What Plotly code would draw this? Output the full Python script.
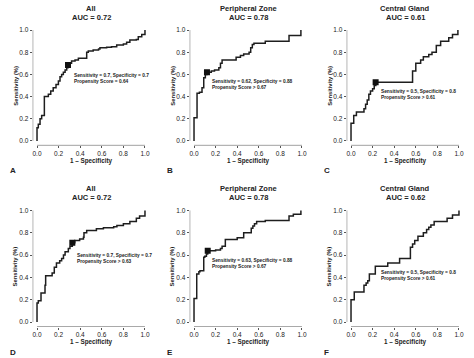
import plotly.graph_objects as go

# ---------------- data ----------------
panel_letters = ["A", "B", "C", "D", "E", "F"]
panel_titles = ["All", "Peripheral Zone", "Central Gland", "All", "Peripheral Zone", "Central Gland"]
auc_values = [0.72, 0.78, 0.61, 0.72, 0.78, 0.62]

fpr_a = [0, 0, 0.012, 0.028, 0.043, 0.068, 0.105, 0.127, 0.15, 0.176, 0.198, 0.213, 0.228, 0.244, 0.26, 0.275,
         0.287, 0.305, 0.32, 0.352, 0.383, 0.46, 0.475, 0.52, 0.57, 0.583, 0.645, 0.69, 0.738, 0.80, 0.83, 0.86,
         0.92, 0.938, 0.97, 1.0]
tpr_a = [0, 0.12, 0.15, 0.20, 0.23, 0.40, 0.42, 0.45, 0.48, 0.51, 0.54, 0.58, 0.60, 0.62, 0.64, 0.66,
         0.685, 0.70, 0.72, 0.73, 0.745, 0.80, 0.81, 0.82, 0.83, 0.84, 0.845, 0.85, 0.865, 0.875, 0.89, 0.91,
         0.915, 0.94, 0.96, 1.0]

fpr_b = [0, 0, 0.028, 0.05, 0.074, 0.09, 0.105, 0.12, 0.16, 0.19, 0.23, 0.245, 0.26, 0.39, 0.43, 0.46,
         0.51, 0.525, 0.54, 0.555, 0.66, 0.88, 0.99]
tpr_b = [0, 0.21, 0.43, 0.44, 0.48, 0.57, 0.60, 0.62, 0.63, 0.64, 0.66, 0.70, 0.73, 0.755, 0.77, 0.785,
         0.80, 0.84, 0.87, 0.88, 0.90, 0.95, 1.0]

fpr_c = [0, 0, 0.025, 0.05, 0.12, 0.135, 0.15, 0.165, 0.18, 0.2, 0.215, 0.23, 0.57, 0.60, 0.645, 0.67,
         0.72, 0.75, 0.79, 0.83, 0.905, 0.94, 0.99]
tpr_c = [0, 0.16, 0.23, 0.26, 0.29, 0.33, 0.37, 0.42, 0.45, 0.47, 0.50, 0.53, 0.63, 0.70, 0.73, 0.76,
         0.78, 0.80, 0.86, 0.90, 0.93, 0.96, 1.0]

fpr_d = [0, 0, 0.012, 0.037, 0.074, 0.08, 0.14, 0.16, 0.18, 0.21, 0.228, 0.245, 0.26, 0.29, 0.305, 0.327,
         0.35, 0.395, 0.43, 0.435, 0.46, 0.55, 0.615, 0.71, 0.74, 0.80, 0.86, 0.92, 0.95, 1.0]
tpr_d = [0, 0.17, 0.19, 0.26, 0.33, 0.415, 0.44, 0.49, 0.53, 0.55, 0.57, 0.60, 0.63, 0.66, 0.68, 0.71,
         0.73, 0.745, 0.76, 0.80, 0.82, 0.835, 0.845, 0.855, 0.865, 0.88, 0.90, 0.93, 0.95, 1.0]

fpr_e = [0, 0, 0.025, 0.045, 0.055, 0.09, 0.1, 0.115, 0.127, 0.2, 0.245, 0.26, 0.29, 0.4, 0.46, 0.53,
         0.545, 0.56, 0.58, 0.66, 0.88, 0.92, 0.99]
tpr_e = [0, 0.21, 0.43, 0.45, 0.46, 0.58, 0.59, 0.61, 0.64, 0.645, 0.66, 0.68, 0.74, 0.755, 0.80, 0.84,
         0.86, 0.88, 0.90, 0.91, 0.95, 0.965, 1.0]

fpr_f = [0, 0, 0.03, 0.12, 0.14, 0.155, 0.17, 0.225, 0.34, 0.45, 0.55, 0.57, 0.59, 0.62, 0.67, 0.70,
         0.72, 0.74, 0.77, 0.89, 0.94, 1.0]
tpr_f = [0, 0.20, 0.27, 0.33, 0.35, 0.37, 0.43, 0.50, 0.53, 0.57, 0.67, 0.70, 0.73, 0.77, 0.80, 0.83,
         0.85, 0.87, 0.90, 0.93, 0.96, 1.0]

# optimal cut-off markers (None = no marker drawn)
cut_fpr = [0.287, 0.12, 0.228, 0.327, 0.127, None]
cut_tpr = [0.685, 0.62, 0.53, 0.71, 0.64, None]

note_line1 = ["Sensitivity = 0.7, Specificity = 0.7", "Sensitivity = 0.62, Specificity = 0.88",
              "Sensitivity = 0.5, Specificity = 0.8", "Sensitivity = 0.7, Specificity = 0.7",
              "Sensitivity = 0.63, Specificity = 0.88", "Sensitivity = 0.5, Specificity = 0.8"]
note_line2 = ["Propensity Score = 0.64", "Propensity Score > 0.67", "Propensity Score > 0.61",
              "Propensity Score > 0.63", "Propensity Score > 0.67", "Propensity Score > 0.61"]
note_x = [0.32, 0.145, 0.26, 0.35, 0.15, 0.26]
note_y = [0.635, 0.575, 0.49, 0.64, 0.59, 0.48]

tick_vals = [0.0, 0.2, 0.4, 0.6, 0.8, 1.0]
tick_text = ["0.0", "0.2", "0.4", "0.6", "0.8", "1.0"]

fprs = [fpr_a, fpr_b, fpr_c, fpr_d, fpr_e, fpr_f]
tprs = [tpr_a, tpr_b, tpr_c, tpr_d, tpr_e, tpr_f]

# ---------------- layout geometry (pixels) ----------------
W, H = 474, 358
col_px = [(32.7, 149.3), (189.7, 306.3), (346.7, 463.3)]
row_px = [(25.6, 145.4), (206.0, 326.5)]

FONT = "Liberation Sans, Arial, sans-serif"
TXT = "#222222"
AXC = "#555555"

def px_x(p):
    return p / W

def px_y(p):
    return 1 - p / H

fig = go.Figure()
shapes = []
annotations = []
rng = [-0.04, 1.04]

for i in range(6):
    r, c = divmod(i, 3)
    sfx = "" if i == 0 else str(i + 1)
    xa, ya = "x" + sfx, "y" + sfx
    x0p, x1p = col_px[c]
    y0p, y1p = row_px[r]

    fig.add_trace(go.Scatter(x=fprs[i], y=tprs[i], mode="lines", line=dict(color="#1e1e1e", width=1.5, shape="hv"),
                             xaxis=xa, yaxis=ya, showlegend=False, hoverinfo="skip"))
    if cut_fpr[i] is not None:
        fig.add_trace(go.Scatter(x=[cut_fpr[i]], y=[cut_tpr[i]], mode="markers",
                                 marker=dict(symbol="square", size=6, color="#111111"),
                                 xaxis=xa, yaxis=ya, showlegend=False, hoverinfo="skip"))

    common = dict(range=rng, showgrid=False, zeroline=False, showline=False, ticks="outside", ticklen=2,
                  tickwidth=1, tickcolor=AXC, tickvals=tick_vals, ticktext=tick_text,
                  tickfont=dict(family=FONT, size=6.5, color=TXT))
    fig.layout["xaxis" + sfx] = dict(common, domain=[px_x(x0p), px_x(x1p)], anchor=ya)
    fig.layout["yaxis" + sfx] = dict(common, domain=[px_y(y1p), px_y(y0p)], anchor=xa)

    # R-style axis lines spanning only the tick range
    shapes.append(dict(type="line", xref=xa, yref=ya, x0=0, x1=1, y0=-0.04, y1=-0.04,
                       line=dict(color=AXC, width=1)))
    shapes.append(dict(type="line", xref=xa, yref=ya, x0=-0.04, x1=-0.04, y0=0, y1=1,
                       line=dict(color=AXC, width=1)))

    cx = (x0p + x1p) / 2
    # titles
    annotations.append(dict(x=px_x(cx), y=px_y(y0p - 17.5), xref="paper", yref="paper", showarrow=False,
                            text="<b>%s</b>" % panel_titles[i], font=dict(family=FONT, size=7.5, color=TXT),
                            xanchor="center", yanchor="middle"))
    annotations.append(dict(x=px_x(cx), y=px_y(y0p - 8.5), xref="paper", yref="paper", showarrow=False,
                            text="<b>AUC = %.2f</b>" % auc_values[i], font=dict(family=FONT, size=7.5, color=TXT),
                            xanchor="center", yanchor="middle"))
    # axis titles
    annotations.append(dict(x=px_x(cx), y=px_y(y1p + 15.5), xref="paper", yref="paper", showarrow=False,
                            text="<b>1 \u2013 Specificity</b>", font=dict(family=FONT, size=6.3, color=TXT),
                            xanchor="center", yanchor="middle"))
    annotations.append(dict(x=px_x(x0p - 17.5), y=px_y((y0p + y1p) / 2), xref="paper", yref="paper",
                            showarrow=False, textangle=-90,
                            text="<b>Sensitivity (%)</b>", font=dict(family=FONT, size=5.8, color=TXT),
                            xanchor="center", yanchor="middle"))
    # panel letter
    annotations.append(dict(x=px_x(x0p - 20), y=px_y(y1p + 25.5), xref="paper", yref="paper", showarrow=False,
                            text="<b>%s</b>" % panel_letters[i], font=dict(family=FONT, size=8, color=TXT),
                            xanchor="center", yanchor="middle"))
    # cut-off note
    annotations.append(dict(x=note_x[i], y=note_y[i], xref=xa, yref=ya, showarrow=False, align="left",
                            text="<b>%s<br>%s</b>" % (note_line1[i], note_line2[i]),
                            font=dict(family=FONT, size=4.8, color=TXT),
                            xanchor="left", yanchor="top"))

fig.update_layout(width=W, height=H, margin=dict(l=0, r=0, t=0, b=0), paper_bgcolor="white",
                  plot_bgcolor="white", shapes=shapes, annotations=annotations, showlegend=False)

fig.write_html("out.html", config={"displayModeBar": False},
               post_script="document.body.style.margin='0';")
